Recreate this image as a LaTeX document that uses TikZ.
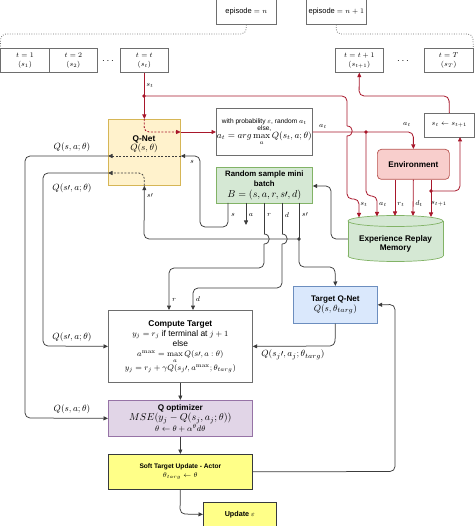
\documentclass[tikz,border=0pt]{standalone}
\usepackage[no-math]{fontspec}
\setmainfont{Liberation Sans}
\usetikzlibrary{arrows.meta,calc}
\definecolor{rl}{HTML}{A8172B}
\definecolor{gl}{HTML}{3C3C3C}
\definecolor{bxd}{HTML}{6E6E6E}
\definecolor{qnF}{HTML}{FFF2CC}\definecolor{qnD}{HTML}{D6B656}
\definecolor{grF}{HTML}{D5E8D4}\definecolor{grD}{HTML}{82B366}
\definecolor{rdF}{HTML}{F8CECC}\definecolor{rdD}{HTML}{B85450}
\definecolor{blF}{HTML}{DAE8FC}\definecolor{blD}{HTML}{6C8EBF}
\definecolor{puF}{HTML}{E1D5E7}\definecolor{puD}{HTML}{9673A6}
\definecolor{yeF}{HTML}{FFFF88}\definecolor{yeD}{HTML}{36393D}
\tikzset{
  bx/.style={draw=bxd, line width=0.7pt, fill=white, anchor=north west, inner sep=0pt, align=center, font=\fontsize{7.5}{9}\selectfont},
  gc/.style={draw=gl, line width=0.75pt, rounded corners=5pt},
  rc/.style={draw=rl, line width=0.8pt, rounded corners=5pt},
  tip/.style={-{Triangle[length=4.5pt,width=4pt]}},
  dsh/.style={dash pattern=on 2pt off 1.5pt},
  dotl/.style={draw=bxd, line width=0.8pt, dash pattern=on 0.8pt off 1.6pt, rounded corners=5pt},
  lbl/.style={inner sep=0pt, font=\fontsize{7}{8}\selectfont},
  qlbl/.style={inner sep=0pt, font=\fontsize{9.5}{11}\selectfont},
  dotn/.style={circle, fill=#1, inner sep=0pt, minimum size=3.6pt},
}
\begin{document}
\begin{tikzpicture}[x=1pt,y=-1pt]
\useasboundingbox (0,0) rectangle (474,526);

% ---------- top row ----------
\node[bx, minimum width=60, minimum height=25] (ep1) at (216,-1) {episode $= n$};
\node[bx, minimum width=60, minimum height=25] (ep2) at (306,-1) {episode $= n+1$};
\node[bx, minimum width=48.6, minimum height=24] (t1) at (0.4,48) {$t=1$\\$(s_1)$};
\node[bx, minimum width=48, minimum height=24] (t2) at (49,48) {$t=2$\\$(s_2)$};
\node[inner sep=0pt, font=\fontsize{10}{12}\selectfont] (dots1) at (108,61) {$\cdots$};
\node[bx, minimum width=48, minimum height=24] (tt) at (120,48) {$t=t$\\$(s_t)$};
\node[bx, minimum width=48, minimum height=24] (tt1) at (335,48) {$t=t+1$\\$(s_{t+1})$};
\node[inner sep=0pt, font=\fontsize{10}{12}\selectfont] (dots2) at (403,61) {$\cdots$};
\node[bx, minimum width=48.6, minimum height=24] (tT) at (424,48) {$t=T$\\$(s_T)$};

\draw[dotl] (ep1.south) -- (246,34) -- (0.8,34) -- (t1.north west);
\draw[dotl] (ep2.south) -- (336,34) -- (472.8,34) -- (tT.north east);

% ---------- main boxes ----------
\node[bx, draw=qnD, fill=qnF, minimum width=72, minimum height=66] (qnet) at (108,119) {};
\node[inner sep=0pt, align=center, font=\fontsize{8.3}{9}\selectfont] (qnettxt) at (144,144) {\textbf{Q-Net}\\[0pt] \fontsize{9.5}{10}\selectfont$Q(s,\theta)$};

\node[bx, minimum width=96, minimum height=47, font=\fontsize{6.6}{7.6}\selectfont] (act) at (216,108)
  {with probability $\varepsilon$, random $a_t$\\ else,\\ \fontsize{8.6}{7.6}\selectfont $a_t = arg\max\limits_a Q(s_t,a;\theta)$};

\node[bx, draw=rdD, fill=rdF, rounded corners=4pt, minimum width=72, minimum height=30, font=\bfseries\fontsize{8.2}{9}\selectfont] (env) at (377,149) {Environment};

\node[bx, minimum width=50, minimum height=24] (upd) at (424,113) {$s_t \leftarrow s_{t+1}$};

\node[bx, draw=grD, fill=grF, minimum width=96, minimum height=36, font=\fontsize{7.8}{9.2}\selectfont] (rs) at (216,167)
  {\textbf{Random sample mini}\\ \textbf{batch}\\[1.8pt] \fontsize{9.6}{9.2}\selectfont$B=(s,a,r,s\prime,d)$};

% experience replay cylinder
\filldraw[draw=grD, fill=grF, line width=0.7pt] (395.5,256) ellipse [x radius=47.5, y radius=5.5];
\fill[grF] (348,221) rectangle (443,256);
\draw[grD, line width=0.7pt] (348,221) -- (348,256) (443,221) -- (443,256);
\filldraw[draw=grD, fill=grF, line width=0.7pt] (395.5,221) ellipse [x radius=47.5, y radius=5.5];
\node[inner sep=0pt, minimum width=95, align=center, font=\bfseries\fontsize{8.2}{9.6}\selectfont] (er) at (395.5,244) {Experience Replay\\ Memory};

\node[bx, minimum width=144, minimum height=72, font=\fontsize{8.4}{10}\selectfont] (ct) at (108,310)
  {\textbf{Compute Target}\\ $y_j = r_j$ if terminal at $j+1$\\ else\\ $a^{\max} = \max\limits_a Q(s\prime,a:\theta)$\\ $y_j = r_j + \gamma Q(s_j\prime, a^{\max};\theta_{targ})$};

\node[bx, draw=blD, fill=blF, minimum width=84, minimum height=37, font=\fontsize{8.1}{10}\selectfont] (tq) at (293,286)
  {\textbf{Target Q-Net}\\ \fontsize{9.5}{10}\selectfont$Q(s,\theta_{targ})$};

\node[bx, draw=puD, fill=puF, minimum width=144, minimum height=36, font=\fontsize{8.2}{10.5}\selectfont] (qo) at (108,400)
  {\textbf{Q optimizer}\\ \fontsize{9.6}{10.5}\selectfont$MSE(y_j - Q(s_j,a_j;\theta))$\\ $\theta \leftarrow \theta + \alpha^\theta d\theta$};

\node[bx, draw=yeD, fill=yeF, minimum width=144, minimum height=35, font=\fontsize{6.6}{9}\selectfont] (st) at (108,454)
  {\textbf{Soft Target Update - Actor}\\ \fontsize{7.5}{9}\selectfont$\theta_{targ} \leftarrow \theta$};

\node[bx, draw=yeD, fill=yeF, minimum width=73, minimum height=24, font=\fontsize{7.2}{9}\selectfont] (ue) at (203,502)
  {\textbf{Update} $\varepsilon$};

% ---------- red connectors ----------
\coordinate (dA) at (144,96);
\draw[rc, tip] (tt.south) -- (qnet.north);
\node[dotn=rl] at (dA) {};
\node[lbl] (lst) at (150,85) {$s_t$};
\draw[rc, dsh, tip] (qnet.north) -- (144,132) -- (qnet.east |- 0,132);
\draw[rc, tip] (qnet.east |- 0,132) -- (act.west |- 0,132);
% s_t to memory with hop
\draw[rc] (dA) -- (347,96) -- (347,126);
\draw[draw=rl, line width=0.8pt] (347,126) .. controls (354,126) and (354,136) .. (347,136);
\draw[rc, tip] (347,136) -- (347,199) -- (359,199) -- (359,217.5);
% a_t
\coordinate (dB) at (366,132);
\draw[rc, tip] (act.east |- 0,132) -- (env.north |- 0,132) -- (env.north);
\node[dotn=rl] at (dB) {};
\draw[rc, tip] (dB) -- (366,196) -- (377,196) -- (377,216.5);
\node[lbl] (la1) at (323,126) {$a_t$};
\node[lbl] (la2) at (407,124) {$a_t$};
% environment outputs
\draw[rc, tip] ($(env.south west)+(18,0)$) -- (395,216);
\draw[rc, tip] (env.south) -- (413,216);
\coordinate (dC) at (431,191);
\draw[rc, tip] ($(env.south west)+(54,0)$) -- (431,217);
\draw[rc, tip] (dC) -- (460,191) -- (460,137);
\node[dotn=rl] at (dC) {};
\draw[rc, tip] (upd.north) -- (449,96) -- (359,96) -- (tt1.south);
\node[lbl] at (364,204) {$s_t$};
\node[lbl] at (383,204) {$a_t$};
\node[lbl] at (401,204) {$r_t$};
\node[lbl] at (419,204) {$d_t$};
\node[lbl] at (439,204) {$s_{t+1}$};

% ---------- grey connectors ----------
\draw[gc, tip] (er.west |- 0,239) -- (331,239) -- (331,186) -- (rs.east |- 0,186);
% s
\draw[gc, tip] (228,203) -- (228,227) -- (200,227) -- (200,156) -- (qnet.east |- 0,156);
\draw[gc, dsh, tip] (qnet.east |- 0,156) -- (qnet.west |- 0,156);
\draw[gc, tip] (qnet.west |- 0,156) -- (25,156) -- (25,418) -- (qo.west);
\node[lbl] at (192,162) {$s$};
\node[qlbl] at (72,147) {$Q(s,a;\theta)$};
\node[qlbl] at (72,409) {$Q(s,a;\theta)$};
% a
\draw[gc, tip] (246,203) -- (246,225);
% s'
\coordinate (dD) at (299,239);
\draw[gc] (299,203) -- (dD);
\draw[gc, tip] (dD) -- (144,239) -- (qnet.south);
\draw[gc, dsh, tip] (qnet.south) -- (144,173) -- (qnet.west |- 0,173);
\draw[gc, tip] (qnet.west |- 0,173) -- (43,173) -- (43,346) -- (ct.west);
\node[lbl] at (150,196) {$s\prime$};
\node[qlbl] at (72,188) {$Q(s\prime,a;\theta)$};
\node[qlbl] at (72,337) {$Q(s\prime,a;\theta)$};
\draw[gc, tip] (dD) -- (299,267) -- (335,267) -- (tq.north);
\node[dotn=gl] at (dD) {};
% r and d with hops
\draw[gc] (264,203) -- (264,234);
\draw[draw=gl, line width=0.75pt] (264,234) .. controls (271,234) and (271,244) .. (264,244);
\draw[gc, tip] (264,244) -- (264,268) -- (169,268) -- (169,310);
\draw[gc] (282,203) -- (282,234);
\draw[draw=gl, line width=0.75pt] (282,234) .. controls (289,234) and (289,244) .. (282,244);
\draw[gc, tip] (282,244) -- (282,288) -- (193,288) -- (193,310);
\node[lbl] at (233,215) {$s$};
\node[lbl] at (251,215) {$a$};
\node[lbl] at (269,215) {$r$};
\node[lbl] at (287,215) {$d$};
\node[lbl] at (305,215) {$s\prime$};
\node[lbl] at (174,300) {$r$};
\node[lbl] at (198,299) {$d$};
% target
\draw[gc, tip] (tq.south) -- (335,346) -- (ct.east);
\node[qlbl] at (293,355) {$Q(s_j\prime,a_j;\theta_{targ})$};
\draw[gc, tip] (st.east) -- (395,471.5) -- (395,304.5) -- (tq.east);
% main chain
\draw[gc, tip] (ct.south) -- (qo.north);
\draw[gc, tip] (qo.south) -- (st.north);
\draw[gc, tip] (st.south) -- (180,514) -- (ue.west);
\end{tikzpicture}
\end{document}
